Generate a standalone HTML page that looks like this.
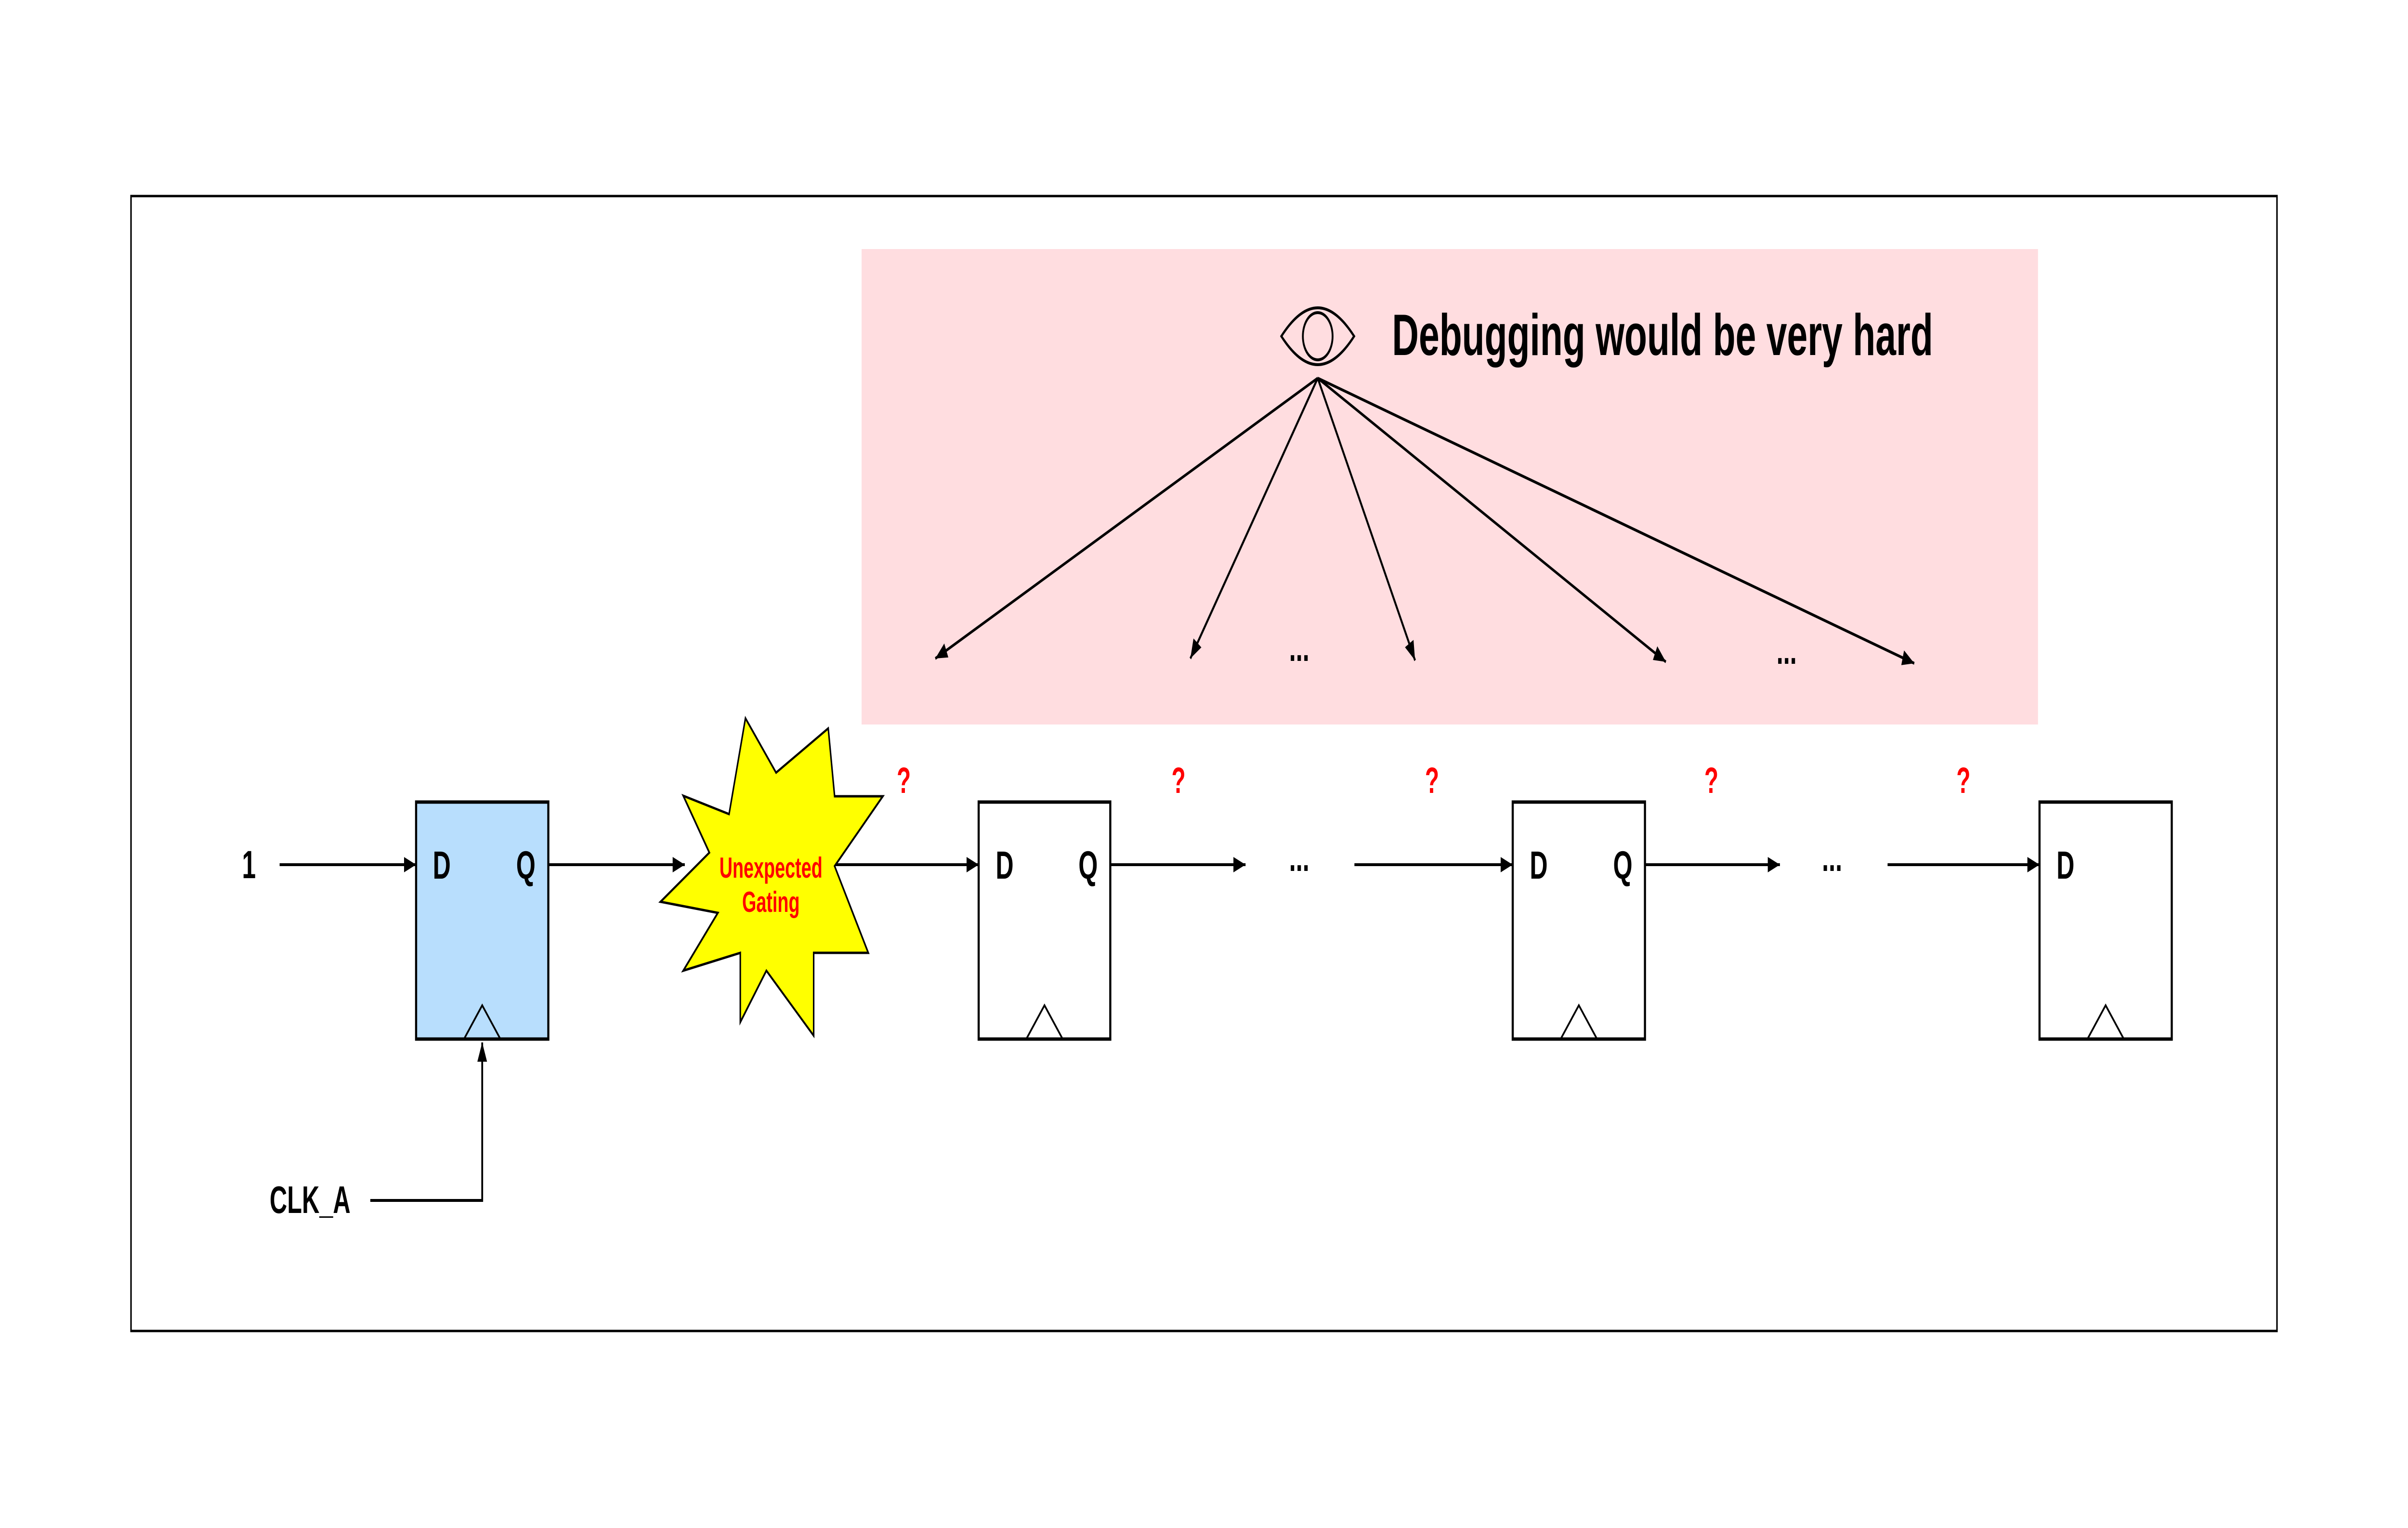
<!DOCTYPE html>
<html><head><meta charset="utf-8"><style>html,body{margin:0;padding:0;background:#fff;width:100%;height:100%;overflow:hidden}svg{display:block;width:100vw;height:100vh}</style></head>
<body>
<svg viewBox="0 0 7940 3172" preserveAspectRatio="none" xmlns="http://www.w3.org/2000/svg" font-family="Liberation Sans, Arial, sans-serif" font-weight="bold">
<defs>
<marker id="b" viewBox="0 0 40 40" refX="40" refY="20" markerWidth="40" markerHeight="40" orient="auto" markerUnits="userSpaceOnUse">
<path d="M0,4 L40,20 L0,36 Z" fill="#000"/>
</marker>
</defs>
<rect x="0" y="0" width="7940" height="3172" fill="#fff"/>
<rect x="432" y="407" width="7076" height="2356" fill="none" stroke="#000" stroke-width="5"/>
<rect x="2841" y="517" width="3879" height="987" fill="#ffdde0"/>

<path d="M4225,698 Q4345,580 4465,698 Q4345,816 4225,698 Z" fill="none" stroke="#000" stroke-width="6"/>
<circle cx="4345" cy="698" r="49" fill="none" stroke="#000" stroke-width="6"/>
<text x="4590" y="737" font-size="122" textLength="1784" lengthAdjust="spacingAndGlyphs">Debugging would be very hard</text>

<g stroke="#000" stroke-width="6" fill="none" marker-end="url(#b)">
<line x1="4345" y1="785" x2="3084" y2="1367"/>
<line x1="4345" y1="785" x2="3925" y2="1367"/>
<line x1="4345" y1="785" x2="4666" y2="1371"/>
<line x1="4345" y1="785" x2="5493" y2="1374"/>
<line x1="4345" y1="785" x2="6312" y2="1377"/>
</g>
<text x="4284" y="1372" font-size="80" text-anchor="middle">...</text>
<text x="5891" y="1378" font-size="80" text-anchor="middle">...</text>

<g stroke="#000" stroke-width="7">
<rect x="1372" y="1665" width="436" height="492" fill="#b8defd"/>
<rect x="3227" y="1665" width="434" height="492" fill="#fff"/>
<rect x="4988" y="1665" width="436" height="492" fill="#fff"/>
<rect x="6725" y="1665" width="436" height="492" fill="#fff"/>
</g>
<g stroke="#000" stroke-width="5" fill="none">
<polyline points="1530,2157 1590,2087 1650,2157"/>
<polyline points="3384,2157 3444,2087 3504,2157"/>
<polyline points="5146,2157 5206,2087 5266,2157"/>
<polyline points="6883,2157 6943,2087 7003,2157"/>
</g>
<g font-size="82">
<text x="1427" y="1824">D</text><text x="1702" y="1824">Q</text>
<text x="3283" y="1824">D</text><text x="3556" y="1824">Q</text>
<text x="5044" y="1824">D</text><text x="5319" y="1824">Q</text>
<text x="6781" y="1824">D</text>
</g>
<text x="798" y="1823" font-size="82">1</text>
<text x="889" y="2518" font-size="80">CLK_A</text>

<g stroke="#000" stroke-width="6" fill="none" marker-end="url(#b)">
<line x1="922" y1="1795" x2="1372" y2="1795"/>
<line x1="1808" y1="1795" x2="2258" y2="1795"/>
<line x1="2752" y1="1795" x2="3227" y2="1795"/>
<line x1="3661" y1="1795" x2="4107" y2="1795"/>
<line x1="4466" y1="1795" x2="4988" y2="1795"/>
<line x1="5424" y1="1795" x2="5869" y2="1795"/>
<line x1="6224" y1="1795" x2="6725" y2="1795"/>
<polyline points="1221,2492 1590,2492 1590,2164"/>
</g>
<text x="4284" y="1808" font-size="80" text-anchor="middle">...</text>
<text x="6041" y="1808" font-size="80" text-anchor="middle">...</text>

<polygon points="2458,1491 2559,1604 2731,1512 2752,1653 2911,1653 2752,1798 2863,1978 2683,1978 2683,2150 2527,2015 2441,2122 2441,1978 2253,2015 2367,1895 2178,1872 2339,1770 2253,1652 2404,1690" fill="#ffff00" stroke="#000" stroke-width="5"/>
<g fill="#ff0000" font-size="60" text-anchor="middle">
<text x="2542" y="1822">Unexpected</text>
<text x="2542" y="1893">Gating</text>
</g>
<g fill="#ff0000" font-size="76" text-anchor="middle">
<text x="2980" y="1646">?</text>
<text x="3886" y="1646">?</text>
<text x="4722" y="1646">?</text>
<text x="5643" y="1646">?</text>
<text x="6474" y="1646">?</text>
</g>
</svg>
</body></html>
